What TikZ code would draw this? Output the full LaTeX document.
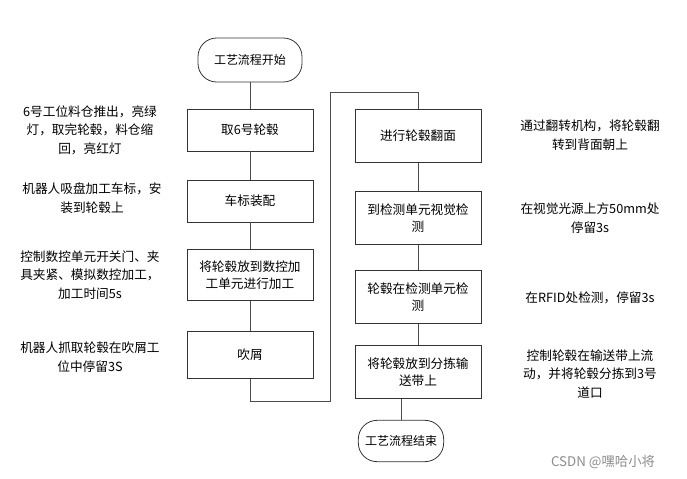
\documentclass[tikz,border=0pt]{standalone}
\usepackage{fontspec}
\setmainfont{Noto Sans CJK SC}
\XeTeXlinebreaklocale "zh"
\XeTeXlinebreakskip=0pt plus 1pt
\begin{document}
\begin{tikzpicture}[x=0.75pt,y=-0.75pt,
  box/.style={draw=black!80,line width=0.6pt,fill=white,minimum width=94.5pt,align=center,font=\fontsize{9.5}{13}\selectfont},
  term/.style={draw=black!80,line width=0.6pt,rounded corners=14pt,align=center,font=\fontsize{9}{11}\selectfont},
  note/.style={align=center,font=\fontsize{9.5}{14}\selectfont},
  ln/.style={draw=black!70,line width=0.6pt}]
\useasboundingbox (0,0) rectangle (687,479);
\node[term,minimum width=78pt,minimum height=33pt] (s) at (250,60) {工艺流程开始};
\node[box,minimum height=31.5pt] (a1) at (250,130) {取6号轮毂};
\node[box,minimum height=31.5pt] (a2) at (250,201) {车标装配};
\node[box,minimum height=38pt] (a3) at (250,275) {将轮毂放到数控加\\工单元进行加工};
\node[box,minimum height=35pt] (a4) at (250,355) {吹屑};
\node[box,minimum height=40pt] (b1) at (418,136) {进行轮毂翻面};
\node[box,minimum height=40pt] (b2) at (418,218) {到检测单元视觉检\\测};
\node[box,minimum height=40pt] (b3) at (418,297) {轮毂在检测单元检\\测};
\node[box,minimum height=40pt] (b4) at (418,372) {将轮毂放到分拣输\\送带上};
\node[term,minimum width=64pt,minimum height=31pt] (e) at (401,441) {工艺流程结束};
\coordinate (c1) at (250,401);
\coordinate (c2) at (330,401);
\coordinate (c3) at (330,92);
\coordinate (c4) at (418,92);
\draw[ln] (s)--(a1) (a1)--(a2) (a2)--(a3) (a3)--(a4);
\draw[ln] (a4.south)--(c1)--(c2)--(c3)--(c4)--(b1.north);
\draw[ln] (b1)--(b2) (b2)--(b3) (b3)--(b4) (e.north)--(e.north |- b4.south);
\node[note] (n1) at (90,130) {6号工位料仓推出，亮绿\\灯，取完轮毂，料仓缩\\回，亮红灯};
\node[note] (n2) at (92,198) {机器人吸盘加工车标，安\\装到轮毂上};
\node[note] (n3) at (90,275) {控制数控单元开关门、夹\\具夹紧、模拟数控加工，\\加工时间5s};
\node[note] (n4) at (90,357) {机器人抓取轮毂在吹屑工\\位中停留3S};
\node[note] (m1) at (590,135) {通过翻转机构，将轮毂翻\\转到背面朝上};
\node[note] (m2) at (590,218) {在视觉光源上方50mm处\\停留3s};
\node[note] (m3) at (590,298) {在RFID处检测，停留3s};
\node[note] (m4) at (590,374) {控制轮毂在输送带上流\\动，并将轮毂分拣到3号\\道口};
\node[text=black!45,font=\fontsize{10}{12}\selectfont] (w) at (603,462) {CSDN @嘿哈小将};
\end{tikzpicture}
\end{document}
